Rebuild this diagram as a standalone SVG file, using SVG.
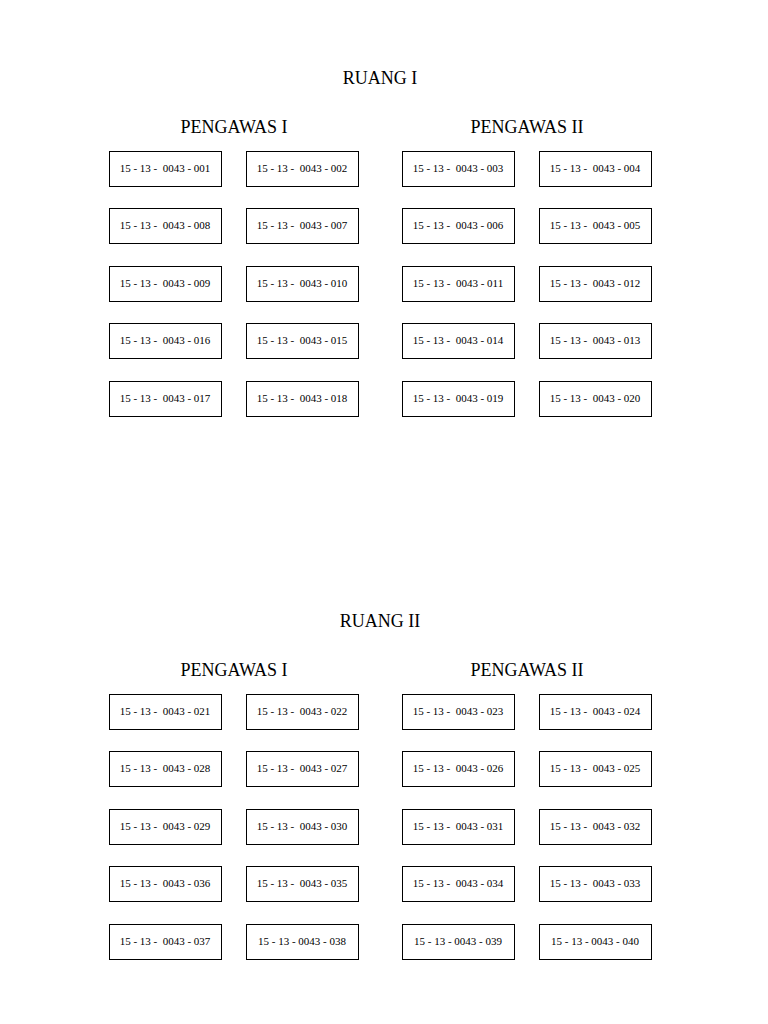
<svg xmlns="http://www.w3.org/2000/svg" width="768" height="1024" viewBox="0 0 768 1024">
<style>
.b{fill:#fff;stroke:#000;stroke-width:1}
.t{font-family:"Liberation Serif",serif;font-size:11px;text-anchor:middle;white-space:pre;fill:#000}
.h{font-family:"Liberation Serif",serif;font-size:18px;text-anchor:middle;fill:#000}
</style>
<rect width="768" height="1024" fill="#fff"/>
<text class="h" x="380" y="84">RUANG I</text>
<text class="h" x="234" y="133">PENGAWAS I</text>
<text class="h" x="527" y="133">PENGAWAS II</text>
<text class="h" x="380" y="627">RUANG II</text>
<text class="h" x="234" y="676">PENGAWAS I</text>
<text class="h" x="527" y="676">PENGAWAS II</text>
<g id="r1">
<g id="n001"><rect class="b" x="109.5" y="151.5" width="112" height="35"/><text class="t" x="165" y="172" xml:space="preserve">15 - 13 -  0043 - 001</text></g>
<g id="n002"><rect class="b" x="246.5" y="151.5" width="112" height="35"/><text class="t" x="302" y="172" xml:space="preserve">15 - 13 -  0043 - 002</text></g>
<g id="n003"><rect class="b" x="402.5" y="151.5" width="112" height="35"/><text class="t" x="458" y="172" xml:space="preserve">15 - 13 -  0043 - 003</text></g>
<g id="n004"><rect class="b" x="539.5" y="151.5" width="112" height="35"/><text class="t" x="595" y="172" xml:space="preserve">15 - 13 -  0043 - 004</text></g>
<g id="n008"><rect class="b" x="109.5" y="208.5" width="112" height="35"/><text class="t" x="165" y="229" xml:space="preserve">15 - 13 -  0043 - 008</text></g>
<g id="n007"><rect class="b" x="246.5" y="208.5" width="112" height="35"/><text class="t" x="302" y="229" xml:space="preserve">15 - 13 -  0043 - 007</text></g>
<g id="n006"><rect class="b" x="402.5" y="208.5" width="112" height="35"/><text class="t" x="458" y="229" xml:space="preserve">15 - 13 -  0043 - 006</text></g>
<g id="n005"><rect class="b" x="539.5" y="208.5" width="112" height="35"/><text class="t" x="595" y="229" xml:space="preserve">15 - 13 -  0043 - 005</text></g>
<g id="n009"><rect class="b" x="109.5" y="266.5" width="112" height="35"/><text class="t" x="165" y="287" xml:space="preserve">15 - 13 -  0043 - 009</text></g>
<g id="n010"><rect class="b" x="246.5" y="266.5" width="112" height="35"/><text class="t" x="302" y="287" xml:space="preserve">15 - 13 -  0043 - 010</text></g>
<g id="n011"><rect class="b" x="402.5" y="266.5" width="112" height="35"/><text class="t" x="458" y="287" xml:space="preserve">15 - 13 -  0043 - 011</text></g>
<g id="n012"><rect class="b" x="539.5" y="266.5" width="112" height="35"/><text class="t" x="595" y="287" xml:space="preserve">15 - 13 -  0043 - 012</text></g>
<g id="n016"><rect class="b" x="109.5" y="323.5" width="112" height="35"/><text class="t" x="165" y="344" xml:space="preserve">15 - 13 -  0043 - 016</text></g>
<g id="n015"><rect class="b" x="246.5" y="323.5" width="112" height="35"/><text class="t" x="302" y="344" xml:space="preserve">15 - 13 -  0043 - 015</text></g>
<g id="n014"><rect class="b" x="402.5" y="323.5" width="112" height="35"/><text class="t" x="458" y="344" xml:space="preserve">15 - 13 -  0043 - 014</text></g>
<g id="n013"><rect class="b" x="539.5" y="323.5" width="112" height="35"/><text class="t" x="595" y="344" xml:space="preserve">15 - 13 -  0043 - 013</text></g>
<g id="n017"><rect class="b" x="109.5" y="381.5" width="112" height="35"/><text class="t" x="165" y="402" xml:space="preserve">15 - 13 -  0043 - 017</text></g>
<g id="n018"><rect class="b" x="246.5" y="381.5" width="112" height="35"/><text class="t" x="302" y="402" xml:space="preserve">15 - 13 -  0043 - 018</text></g>
<g id="n019"><rect class="b" x="402.5" y="381.5" width="112" height="35"/><text class="t" x="458" y="402" xml:space="preserve">15 - 13 -  0043 - 019</text></g>
<g id="n020"><rect class="b" x="539.5" y="381.5" width="112" height="35"/><text class="t" x="595" y="402" xml:space="preserve">15 - 13 -  0043 - 020</text></g>
</g>
<g id="r2">
<g id="n021"><rect class="b" x="109.5" y="694.5" width="112" height="35"/><text class="t" x="165" y="715" xml:space="preserve">15 - 13 -  0043 - 021</text></g>
<g id="n022"><rect class="b" x="246.5" y="694.5" width="112" height="35"/><text class="t" x="302" y="715" xml:space="preserve">15 - 13 -  0043 - 022</text></g>
<g id="n023"><rect class="b" x="402.5" y="694.5" width="112" height="35"/><text class="t" x="458" y="715" xml:space="preserve">15 - 13 -  0043 - 023</text></g>
<g id="n024"><rect class="b" x="539.5" y="694.5" width="112" height="35"/><text class="t" x="595" y="715" xml:space="preserve">15 - 13 -  0043 - 024</text></g>
<g id="n028"><rect class="b" x="109.5" y="751.5" width="112" height="35"/><text class="t" x="165" y="772" xml:space="preserve">15 - 13 -  0043 - 028</text></g>
<g id="n027"><rect class="b" x="246.5" y="751.5" width="112" height="35"/><text class="t" x="302" y="772" xml:space="preserve">15 - 13 -  0043 - 027</text></g>
<g id="n026"><rect class="b" x="402.5" y="751.5" width="112" height="35"/><text class="t" x="458" y="772" xml:space="preserve">15 - 13 -  0043 - 026</text></g>
<g id="n025"><rect class="b" x="539.5" y="751.5" width="112" height="35"/><text class="t" x="595" y="772" xml:space="preserve">15 - 13 -  0043 - 025</text></g>
<g id="n029"><rect class="b" x="109.5" y="809.5" width="112" height="35"/><text class="t" x="165" y="830" xml:space="preserve">15 - 13 -  0043 - 029</text></g>
<g id="n030"><rect class="b" x="246.5" y="809.5" width="112" height="35"/><text class="t" x="302" y="830" xml:space="preserve">15 - 13 -  0043 - 030</text></g>
<g id="n031"><rect class="b" x="402.5" y="809.5" width="112" height="35"/><text class="t" x="458" y="830" xml:space="preserve">15 - 13 -  0043 - 031</text></g>
<g id="n032"><rect class="b" x="539.5" y="809.5" width="112" height="35"/><text class="t" x="595" y="830" xml:space="preserve">15 - 13 -  0043 - 032</text></g>
<g id="n036"><rect class="b" x="109.5" y="866.5" width="112" height="35"/><text class="t" x="165" y="887" xml:space="preserve">15 - 13 -  0043 - 036</text></g>
<g id="n035"><rect class="b" x="246.5" y="866.5" width="112" height="35"/><text class="t" x="302" y="887" xml:space="preserve">15 - 13 -  0043 - 035</text></g>
<g id="n034"><rect class="b" x="402.5" y="866.5" width="112" height="35"/><text class="t" x="458" y="887" xml:space="preserve">15 - 13 -  0043 - 034</text></g>
<g id="n033"><rect class="b" x="539.5" y="866.5" width="112" height="35"/><text class="t" x="595" y="887" xml:space="preserve">15 - 13 -  0043 - 033</text></g>
<g id="n037"><rect class="b" x="109.5" y="924.5" width="112" height="35"/><text class="t" x="165" y="945" xml:space="preserve">15 - 13 -  0043 - 037</text></g>
<g id="n038"><rect class="b" x="246.5" y="924.5" width="112" height="35"/><text class="t" x="302" y="945">15 - 13 - 0043 - 038</text></g>
<g id="n039"><rect class="b" x="402.5" y="924.5" width="112" height="35"/><text class="t" x="458" y="945">15 - 13 - 0043 - 039</text></g>
<g id="n040"><rect class="b" x="539.5" y="924.5" width="112" height="35"/><text class="t" x="595" y="945">15 - 13 - 0043 - 040</text></g>
</g>
<g id="connectors"/>
</svg>
